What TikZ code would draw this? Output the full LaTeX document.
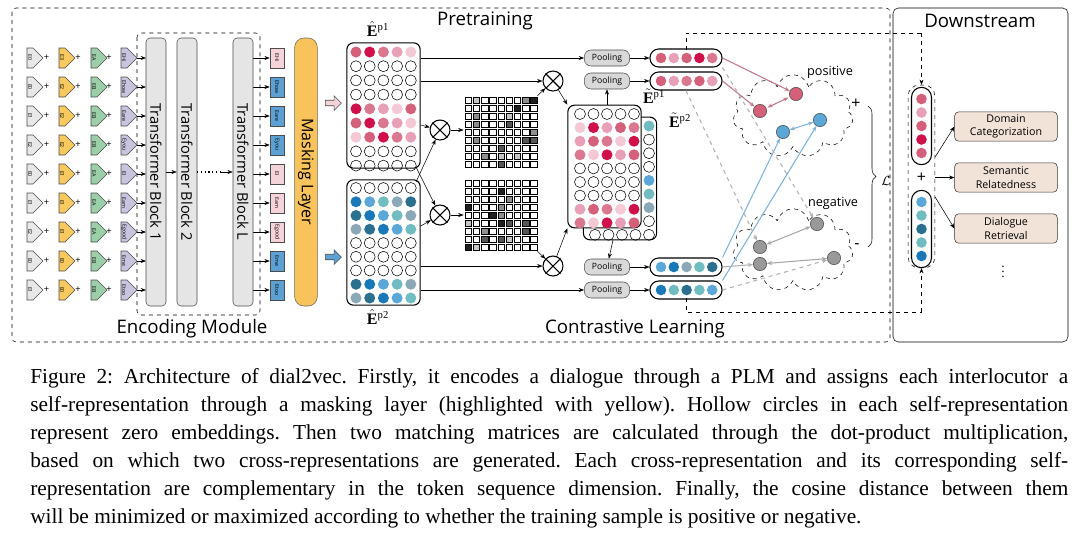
\documentclass[tikz,border=0pt]{standalone}
\usepackage{fontspec}
\setmainfont{Liberation Serif}
\newfontfamily\dsf{Open Sans}
\usetikzlibrary{shapes.symbols,shapes.geometric,shapes.arrows,arrows.meta,decorations.pathreplacing}
\definecolor{p0}{HTML}{D4607A}\definecolor{p1}{HTML}{E8A0B8}\definecolor{p2}{HTML}{D0104A}
\definecolor{p3}{HTML}{F4C8D4}\definecolor{p4}{HTML}{DA7890}
\definecolor{b0}{HTML}{5BA8D8}\definecolor{b1}{HTML}{2C7090}\definecolor{b2}{HTML}{70BCC0}
\definecolor{b3}{HTML}{1878B8}\definecolor{b4}{HTML}{8AA8B8}
\definecolor{tgray}{HTML}{E8E8E8}\definecolor{tyel}{HTML}{F7C95E}\definecolor{tgrn}{HTML}{9BCFA8}
\definecolor{tpur}{HTML}{C8C4DE}\definecolor{opink}{HTML}{F4D4D8}\definecolor{oblue}{HTML}{5CA0D4}
\definecolor{mask}{HTML}{F7C35A}\definecolor{task}{HTML}{F2E3D8}
\definecolor{lpink}{HTML}{C07888}\definecolor{lblue}{HTML}{80B4D8}
\begin{document}
\frenchspacing
\begin{tikzpicture}[x=0.75pt,y=-0.75pt,>={Stealth[length=4pt,width=3pt]},
 tok/.style={signal,signal to=east,draw=black!70,minimum width=12pt,minimum height=15pt,inner sep=0pt},
 tl/.style={rotate=-90,font=\dsf\fontsize{4}{4}\selectfont},
 otok/.style={rectangle,draw=black!70,minimum width=10.5pt,minimum height=15pt,inner sep=0pt},
 blk/.style={rectangle,rounded corners=3pt,draw=black!70,fill=black!10,minimum width=15pt,minimum height=201pt},
 bt/.style={rotate=-90,font=\dsf\fontsize{11}{12}\selectfont},
 mat/.style={rectangle,rounded corners=5pt,draw,thick,minimum width=55pt,minimum height=94pt},
 ot/.style={circle,draw,thick,minimum size=15pt,inner sep=0pt},
 pool/.style={rectangle,rounded corners=5pt,draw=black!70,fill=black!15,minimum width=34pt,minimum height=12pt,inner sep=0pt,font=\dsf\fontsize{6.5}{7}\selectfont},
 vec/.style={rectangle,rounded corners=6.5pt,draw,thick,minimum width=54pt,minimum height=13.5pt},
 dot/.style={circle,draw=black!70,minimum size=10pt,inner sep=0pt},
 tbox/.style={rectangle,rounded corners=3pt,draw=black!80,fill=task,minimum width=77pt,minimum height=22pt,align=center,inner sep=1pt,font=\dsf\fontsize{8}{10}\selectfont},
 ml/.style={inner sep=0pt,font=\fontsize{12}{12}\selectfont},
 ttl/.style={font=\dsf\fontsize{14}{16}\selectfont}]
\useasboundingbox (0,0) rectangle (1083,537);
\fill[white] (0,0) rectangle (1083,537);
% frames
\draw[dashed,rounded corners=3pt] (12,8) rectangle (890,342);
\draw[rounded corners=4pt] (893,8) rectangle (1068,342);
\draw[dashed,rounded corners=3pt] (137,33) rectangle (260,315);
\node[ttl] (tpre) at (485,21) {Pretraining};
\node[ttl] (tenc) at (192,329) {Encoding Module};
\node[ttl] (tcl) at (635,329) {Contrastive Learning};
\node[ttl] (tdown) at (980,21) {Downstream};
% tokens
\foreach \i/\a/\b/\c/\d/\oc in {0/E0/E3/EA/EHi/opink,1/E0/E2/EB/Ehow/oblue,2/E1/E2/EB/Eare/oblue,3/E2/E2/EB/Eyou/oblue,4/E0/E1/EA/EI/opink,5/E1/E1/EA/Eam/opink,6/E2/E1/EA/Egood/opink,7/E0/E0/EB/Eme/oblue,8/E1/E0/EB/Etoo/oblue}{
 \pgfmathsetmacro\yy{58+29*\i}
 \node[tok,fill=tgray] (a\i) at (30,\yy) {}; \node[tl] at (a\i) {\a};
 \node[tok,fill=tyel] (b\i) at (62,\yy) {}; \node[tl] at (b\i) {\b};
 \node[tok,fill=tgrn] (c\i) at (94,\yy) {}; \node[tl] at (c\i) {\c};
 \node[tok,fill=tpur] (d\i) at (124,\yy) {}; \node[tl] at (d\i) {\d};
 \node[font=\dsf\scriptsize,inner sep=0pt] at (46.5,\yy) {+};
 \node[font=\dsf\scriptsize,inner sep=0pt] at (78,\yy) {+};
 \node[font=\dsf\scriptsize,inner sep=0pt] at (109,\yy) {+};
 \coordinate (in\i) at (146,\yy);
 \draw[->] (d\i.east) -- (in\i);
 \node[otok,fill=\oc] (o\i) at (277,\yy) {}; \node[tl] at (o\i) {\d};
 \draw[->] (253,\yy) -- (o\i.west);
}
\node[blk] (t1) at (156,172) {}; \node[bt] at (t1) {Transformer Block 1};
\node[blk] (t2) at (187,172) {}; \node[bt] at (t2) {Transformer Block 2};
\node[blk] (t3) at (243,172) {}; \node[bt] at (t3) {Transformer Block L};
\draw[->] (t1) -- (t2);
\draw[dotted,thick] (t2.east) -- (220,172);
\draw[->] (220,172) -- (t3.west);
\node[rectangle,rounded corners=7pt,draw=black!60,fill=mask,minimum width=17pt,minimum height=201pt] (mk) at (306,172) {};
\node[bt,font=\dsf\fontsize{12}{13}\selectfont] at (mk) {Masking Layer};
\node[single arrow,draw=black!70,fill=opink,minimum height=12pt,minimum width=11pt,single arrow head extend=2pt,inner sep=1pt] (ar1) at (332,103) {};
\node[single arrow,draw=black!70,fill=oblue,minimum height=12pt,minimum width=11pt,single arrow head extend=2pt,inner sep=1pt] (ar2) at (332,257) {};
% self-representations
\node[mat] (ep1) at (383.5,105.5) {};
\node[mat] (ep2) at (383.5,242.5) {};
\node[ml] at (378,29) {$\hat{\mathbf{E}}^{\mathrm{p1}}$};
\node[ml] at (378,317) {$\hat{\mathbf{E}}^{\mathrm{p2}}$};
\foreach \r in {0,...,8}{\foreach \c in {0,...,4}{
  \pgfmathsetmacro\xx{356+13.7*\c}\pgfmathsetmacro\ya{52+14.2*\r}\pgfmathsetmacro\yb{188+13.75*\r}
  \pgfmathtruncatemacro\k{mod(\r*3+\c*2,5)}
  \ifnum\r=0 \fill[p\k] (\xx,\ya) circle[radius=5.5]; \else\ifnum\r>3 \ifnum\r<7 \fill[p\k] (\xx,\ya) circle[radius=5.5]; \else \draw (\xx,\ya) circle[radius=5.5];\fi\else \draw (\xx,\ya) circle[radius=5.5];\fi\fi
  \ifnum\r=0 \draw (\xx,\yb) circle[radius=5.5]; \else\ifnum\r<4 \fill[b\k] (\xx,\yb) circle[radius=5.5]; \else\ifnum\r>6 \fill[b\k] (\xx,\yb) circle[radius=5.5]; \else \draw (\xx,\yb) circle[radius=5.5];\fi\fi\fi
}}
% otimes
\foreach \n/\x/\y in {x1/440/130,x2/440/215,x3/553/81,x4/553/266}{
 \node[ot,fill=white] (\n) at (\x,\y) {};
 \draw[thick] (\n.north west) -- (\n.south east) (\n.north east) -- (\n.south west);
}
% matching matrices
\pgfmathsetseed{5}
\node[minimum width=55pt,minimum height=54pt,inner sep=0pt] (mm1) at (500.5,132) {};
\node[minimum width=55pt,minimum height=54pt,inner sep=0pt] (mm2) at (500.5,215) {};
\foreach \r in {0,...,8}{\foreach \c in {0,...,8}{
  \pgfmathsetmacro\xx{465+8.2*\c}\pgfmathsetmacro\ya{97+8*\r}\pgfmathsetmacro\yb{180+8*\r}
  \pgfmathrandominteger\g{0}{20}\pgfmathsetmacro\sh{\g>16?(\g-16)*22:0}
  \draw[fill=black!\sh] (\xx,\ya) rectangle +(6.4,6.4);
  \pgfmathrandominteger\g{0}{20}\pgfmathsetmacro\sh{\g>16?(\g-16)*22:0}
  \draw[fill=black!\sh] (\xx,\yb) rectangle +(6.4,6.4);
}}
% cross representations
\node[mat,minimum width=55pt,minimum height=92pt] (cr2) at (620,178.5) {};
\foreach \r in {0,...,8}{\foreach \c in {0,...,4}{
  \pgfmathsetmacro\xx{595+13.5*\c}\pgfmathsetmacro\yy{126+13.6*\r}
  \pgfmathtruncatemacro\k{mod(\r*2+\c*3,5)}
  \ifnum\r=0 \fill[b\k] (\xx,\yy) circle[radius=5.5]; \else\ifnum\r>3 \ifnum\r<7 \fill[b\k] (\xx,\yy) circle[radius=5.5]; \else \draw (\xx,\yy) circle[radius=5.5];\fi\else \draw (\xx,\yy) circle[radius=5.5];\fi\fi
}}
\node[mat,fill=white,minimum width=55pt,minimum height=92pt] (cr1) at (604.5,166.5) {};
\foreach \r in {0,...,8}{\foreach \c in {0,...,4}{
  \pgfmathsetmacro\xx{580+13.5*\c}\pgfmathsetmacro\yy{114+13.6*\r}
  \pgfmathtruncatemacro\k{mod(\r*3+\c*4,5)}
  \ifnum\r=0 \draw (\xx,\yy) circle[radius=5.5]; \else\ifnum\r<4 \fill[p\k] (\xx,\yy) circle[radius=5.5]; \else\ifnum\r>6 \fill[p\k] (\xx,\yy) circle[radius=5.5]; \else \draw (\xx,\yy) circle[radius=5.5];\fi\fi\fi
}}
\node[ml] at (654,96) {$\tilde{\mathbf{E}}^{\mathrm{p1}}$};
\node[ml] at (680,120) {$\tilde{\mathbf{E}}^{\mathrm{p2}}$};
% pooling and vectors
\node[pool] (pl1) at (607,58) {Pooling};
\node[pool] (pl2) at (607,81) {Pooling};
\node[pool] (pl3) at (607,267) {Pooling};
\node[pool] (pl4) at (607,290) {Pooling};
\foreach \n/\y/\cs in {v1/58/{p0,p1,p0,p2,p4},v2/81/{p0,p1,p4,p0,p1},v3/267/{b0,b3,b4,b2,b1},v4/290/{b3,b2,b1,b2,b0}}{
 \node[vec] (\n) at (686,\y) {};
 \foreach \cc [count=\j from 0] in \cs {\fill[\cc] (661+12.8*\j,\y) circle[radius=5.3];}
}
\foreach \i in {1,...,4}{\draw[->] (pl\i) -- (v\i);}
% connectors of pretraining
\draw[->] (ep1.east |- pl1) -- (pl1);
\draw[->] (ep1.east |- x3) -- (x3);
\draw[->] (ep1.east |- 0,125) -- (x1);
\draw[->] (416,167) -- (x2);
\draw[->] (416,182) -- (x1);
\draw[->] (ep2.east |- 0,226) -- (x2);
\draw[->] (ep2.east |- x4) -- (x4);
\draw[->] (ep2.east |- pl4) -- (pl4);
\draw[->] (x1) -- (mm1.west |- x1);
\draw[->] (x2) -- (mm2.west |- x2);
\draw[->] (mm1.north east) -- (x3);
\draw[->] (mm2.south east) -- (x4);
\draw[->] (x3) -- (cr1.north west);
\draw[->] (x4) -- (cr1.south west);
\draw[->] (cr1.north -| pl2) -- (pl2);
\draw[->] (613,240) -- (pl3);
% contrastive clouds
\node[cloud,cloud puffs=11,draw,dashed,minimum width=90pt,minimum height=62pt,aspect=1.6] (cpos) at (793,116) {};
\node[cloud,cloud puffs=11,draw,dashed,minimum width=90pt,minimum height=62pt,aspect=1.6] (cneg) at (793,250) {};
\node[font=\dsf\fontsize{9.5}{10}\selectfont] at (830,72) {positive};
\node[font=\dsf\fontsize{9.5}{10}\selectfont] at (833,203) {negative};
\node[dot,fill=p0] (r1) at (760,111) {};
\node[dot,fill=p0] (r2) at (796,94) {};
\node[dot,fill=b0] (u1) at (783,132) {};
\node[dot,fill=b0] (u2) at (820,120) {};
\node[dot,fill=black!40] (g1) at (817,224) {};
\node[dot,fill=black!40] (g2) at (760,247) {};
\node[dot,fill=black!40] (g3) at (760,264) {};
\node[dot,fill=black!40] (g4) at (834,258) {};
\draw[->,lpink,thick] (v1.east) -- (r2);
\draw[->,lpink,thick] (v2.east) -- (r1);
\draw[<->,lpink,thick,shorten <=1pt,shorten >=1pt] (r1) -- (r2);
\draw[->,lblue,thick] (v3.north east) -- (u1);
\draw[->,lblue,thick] (v4.north east) -- (u2);
\draw[<->,lblue,thick] (u1) -- (u2);
\draw[->,black!30,dashed,thick] (v1.south east) -- (g1);
\draw[->,black!30,dashed,thick] (v2.south) -- (g2);
\draw[->,black!30,thick] (v3.east) -- (g3);
\draw[->,black!30,dashed,thick] (v4.east) -- (g4);
\draw[<->,black!35,thick] (g2) -- (g1);
\draw[<->,black!35,thick] (g3) -- (g4);
\node[font=\dsf\large] at (856,104) {+};
\node[font=\dsf\large] at (857,246) {-};
\draw[decorate,decoration={brace,amplitude=6pt}] (868,106) -- (868,247);
\node (L) at (886,181) {$\mathcal{L}$};
% downstream
\node[rectangle,rounded corners=8pt,draw,dashed,minimum width=20pt,minimum height=137pt] (dcol) at (921.5,176.5) {};
\node[rectangle,rounded corners=7.5pt,draw,thick,minimum width=15pt,minimum height=58pt] (dr) at (921.5,126) {};
\node[rectangle,rounded corners=7.5pt,draw,thick,minimum width=15pt,minimum height=58pt] (db) at (921.5,229) {};
\foreach \cc [count=\j from 0] in {p0,p1,p0,p2,p0}{\fill[\cc] (921.5,99+13.5*\j) circle[radius=5.3];}
\foreach \cc [count=\j from 0] in {b0,b2,b1,b2,b3}{\fill[\cc] (921.5,202+13.5*\j) circle[radius=5.3];}
\node[font=\dsf\large] (dplus) at (921.5,178) {+};
\coordinate (ct) at (686,50);
\coordinate (cb) at (686,298);
\draw[dashed] (ct) |- (921.5,33);
\draw[dashed,->] (921.5,33) -- (dcol.north);
\draw[dashed] (cb) |- (921.5,312);
\draw[dashed,->] (921.5,312) -- (dcol.south);
\node[tbox] (k1) at (1006,126.5) {Domain\\Categorization};
\node[tbox] (k2) at (1006,177.5) {Semantic\\Relatedness};
\node[tbox] (k3) at (1006,228.5) {Dialogue\\Retrieval};
\draw[->] (dcol.east |- 0,157) -- (k1.west);
\draw[->] (dcol.east |- k2) -- (k2.west);
\draw[->] (dcol.east |- 0,197) -- (k3.west);
\node (vd) at (1003,268) {$\vdots$};
% caption
\node[anchor=north west,inner sep=0pt,text width=778.5pt,align=justify,font=\fontsize{16}{21}\selectfont] (cap) at (30,368) {Figure 2: Architecture of dial2vec. Firstly, it encodes a dialogue through a PLM and assigns each interlocutor a\linebreak self-representation through a masking layer (highlighted with yellow). Hollow circles in each self-representation\linebreak represent zero embeddings. Then two matching matrices are calculated through the dot-product multiplication,\linebreak based on which two cross-representations are generated. Each cross-representation and its corresponding self-\linebreak representation are complementary in the token sequence dimension. Finally, the cosine distance between them\linebreak will be minimized or maximized according to whether the training sample is positive or negative.};
\end{tikzpicture}
\end{document}
